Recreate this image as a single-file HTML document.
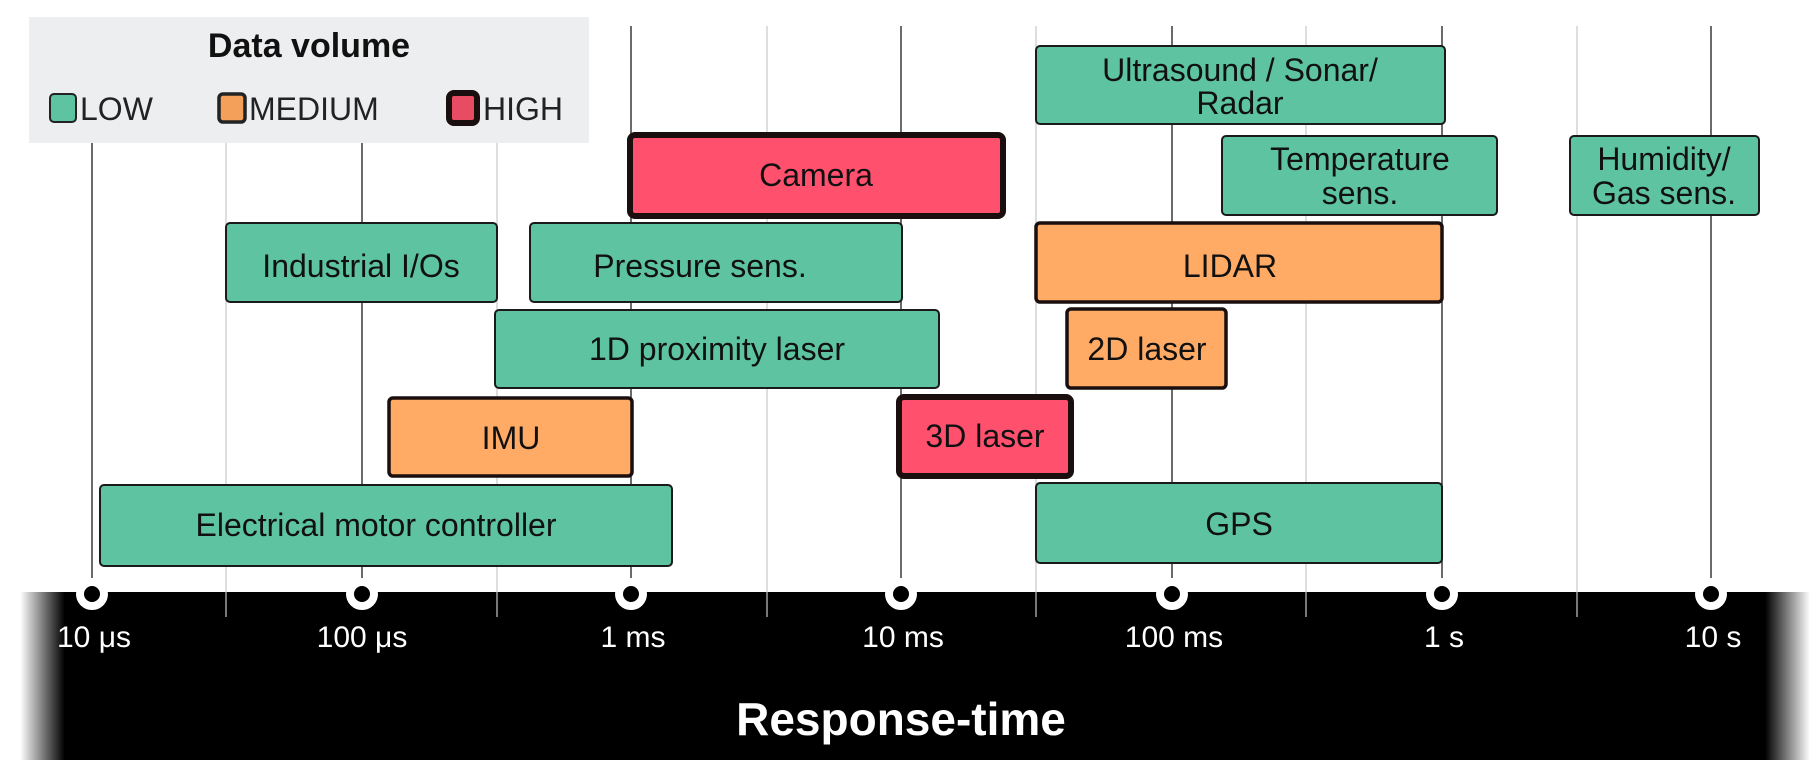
<!DOCTYPE html>
<html><head><meta charset="utf-8"><style>
html,body{margin:0;padding:0;background:#fff;}
svg{display:block;font-family:"Liberation Sans","DejaVu Sans",sans-serif;}
</style></head><body>
<svg width="1810" height="768" viewBox="0 0 1810 768" xmlns="http://www.w3.org/2000/svg">
<defs>
<linearGradient id="band" x1="0" x2="1" y1="0" y2="0">
<stop offset="0" stop-color="#fff"/>
<stop offset="0.025" stop-color="#000"/>
<stop offset="0.975" stop-color="#000"/>
<stop offset="1" stop-color="#fff"/>
</linearGradient>
</defs>
<!-- band -->
<rect x="20" y="592" width="1790" height="168" fill="url(#band)"/>
<!-- minor lines -->
<g stroke="#c8c8c8" stroke-width="1.2">
<line x1="226" y1="26" x2="226" y2="617"/>
<line x1="497" y1="26" x2="497" y2="617"/>
<line x1="767" y1="26" x2="767" y2="617"/>
<line x1="1036" y1="26" x2="1036" y2="617"/>
<line x1="1306" y1="26" x2="1306" y2="617"/>
<line x1="1577" y1="26" x2="1577" y2="617"/>
</g>
<g stroke="#3a3a3a" stroke-width="1.5">
<line x1="362" y1="26" x2="362" y2="594"/>
<line x1="631" y1="26" x2="631" y2="594"/>
<line x1="901" y1="26" x2="901" y2="594"/>
<line x1="1172" y1="26" x2="1172" y2="594"/>
<line x1="1442" y1="26" x2="1442" y2="594"/>
<line x1="1711" y1="26" x2="1711" y2="594"/>
<line x1="92" y1="143" x2="92" y2="594"/>
</g>
<!-- legend -->
<rect x="29" y="17" width="560" height="126" fill="#eceef0"/>
<text x="309" y="57" text-anchor="middle" font-size="34" font-weight="bold" fill="#111">Data volume</text>
<rect x="50" y="94" width="26" height="28" rx="4" fill="#5dc3a0" stroke="#222" stroke-width="2"/>
<text x="80" y="120" font-size="32" fill="#222">LOW</text>
<rect x="219" y="94" width="26" height="28" rx="4" fill="#f4a05a" stroke="#222" stroke-width="3.5"/>
<text x="249" y="120" font-size="32" fill="#222">MEDIUM</text>
<rect x="449" y="93" width="28" height="30" rx="5" fill="#e74c62" stroke="#1a0e0e" stroke-width="6"/>
<text x="483" y="120" font-size="32" fill="#222">HIGH</text>
<!-- boxes -->
<g font-size="32" fill="#111" text-anchor="middle">
<g stroke="#1a1a1a" stroke-width="2" fill="#5dc3a0">
<rect x="1036" y="46" width="409" height="78" rx="4"/>
<rect x="1222" y="136" width="275" height="79" rx="4"/>
<rect x="1570" y="136" width="189" height="79" rx="4"/>
<rect x="226" y="223" width="271" height="79" rx="4"/>
<rect x="530" y="223" width="372" height="79" rx="4"/>
<rect x="495" y="310" width="444" height="78" rx="4"/>
<rect x="100" y="485" width="572" height="81" rx="4"/>
<rect x="1036" y="483" width="406" height="80" rx="4"/>
</g>
<g stroke="#1a0e0e" stroke-width="3.5" fill="#ffab66">
<rect x="1036" y="223" width="406" height="79" rx="4"/>
<rect x="1067" y="309" width="159" height="79" rx="4"/>
<rect x="389" y="398" width="243" height="78" rx="4"/>
</g>
<g stroke="#1a0e0e" stroke-width="6" fill="#ff506e">
<rect x="630" y="135" width="373" height="81" rx="5"/>
<rect x="899" y="397" width="172" height="79" rx="5"/>
</g>
<text x="1240" y="81">Ultrasound / Sonar/</text>
<text x="1240" y="114">Radar</text>
<text x="1360" y="170">Temperature</text>
<text x="1360" y="204">sens.</text>
<text x="1664" y="170">Humidity/</text>
<text x="1664" y="204">Gas sens.</text>
<text x="816" y="186">Camera</text>
<text x="361" y="277">Industrial I/Os</text>
<text x="700" y="277">Pressure sens.</text>
<text x="1230" y="277">LIDAR</text>
<text x="717" y="360">1D proximity laser</text>
<text x="1147" y="360">2D laser</text>
<text x="511" y="449">IMU</text>
<text x="985" y="447">3D laser</text>
<text x="376" y="536">Electrical motor controller</text>
<text x="1239" y="535">GPS</text>
</g>
<!-- tick circles -->
<g fill="#000" stroke="#fff" stroke-width="8">
<circle cx="92" cy="594" r="12"/>
<circle cx="362" cy="594" r="12"/>
<circle cx="631" cy="594" r="12"/>
<circle cx="901" cy="594" r="12"/>
<circle cx="1172" cy="594" r="12"/>
<circle cx="1442" cy="594" r="12"/>
<circle cx="1711" cy="594" r="12"/>
</g>
<g fill="#fff" font-size="30" text-anchor="middle">
<text x="94" y="647">10 μs</text>
<text x="362" y="647">100 μs</text>
<text x="633" y="647">1 ms</text>
<text x="903" y="647">10 ms</text>
<text x="1174" y="647">100 ms</text>
<text x="1444" y="647">1 s</text>
<text x="1713" y="647">10 s</text>
<text x="901" y="735" font-size="46" font-weight="bold">Response-time</text>
</g>
</svg>
</body></html>
